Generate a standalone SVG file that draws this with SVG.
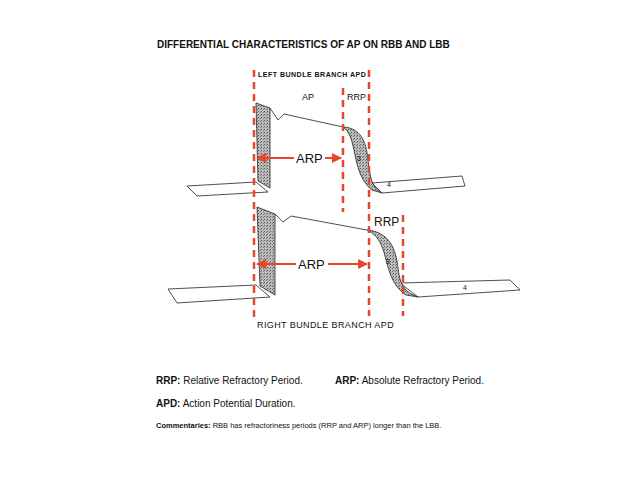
<svg xmlns="http://www.w3.org/2000/svg" width="638" height="479" viewBox="0 0 638 479">
<defs>
<pattern id="stip" width="3" height="3" patternUnits="userSpaceOnUse"><rect width="3" height="3" fill="#bbb"/><rect x="0" y="0" width="1" height="1" fill="#555"/><rect x="2" y="1" width="1" height="1" fill="#777"/></pattern>
<marker id="ah" viewBox="0 0 10 10" refX="9" refY="5" markerWidth="5" markerHeight="5" orient="auto-start-reverse"><path d="M0,0L10,5L0,10z" fill="#e8452a"/></marker>
</defs>
<style>
.t{font-family:"Liberation Sans",Arial,sans-serif;fill:#111}
.red{stroke:#e8452a;stroke-width:2.5;stroke-dasharray:7,5;fill:none}
.arr{stroke:#e8452a;stroke-width:2;fill:none}
.w{stroke:#222;stroke-width:0.8;fill:#fff}
.s{stroke:#222;stroke-width:0.8;fill:url(#stip)}
</style>
<rect width="638" height="479" fill="#fff"/>
<text class="t" x="157" y="48" font-size="10" font-weight="bold">DIFFERENTIAL CHARACTERISTICS OF AP ON RBB AND LBB</text>
<g id="lbb">
<polygon class="w" points="187,186 256,182 268,192 197,196"/>
<polygon class="w" points="372,183 462,176 465,186 382,193"/>
<polyline class="w" points="270,108 278,120 284,114 343,127" style="fill:none"/>
<polygon class="s" points="256,103 270,108 270,188 258,181"/>
<path class="s" d="M343,127 C360,128 366,140 368,160 C370,178 372,188 382,193 L372,190 C362,182 358,170 355,155 C352,140 350,132 343,127z"/>
<text class="t" x="357" y="161" font-size="7">3</text>
<text class="t" x="387" y="187" font-size="7">4</text>
<text class="t" x="258" y="77" font-size="7" font-weight="bold" letter-spacing="0.5">LEFT BUNDLE BRANCH APD</text>
<text class="t" x="302" y="100" font-size="9">AP</text>
<text class="t" x="347" y="100" font-size="9">RRP</text>
<text class="t" x="296" y="163" font-size="13">ARP</text>
</g>
<g id="rbb">
<polygon class="w" points="168,289 256,285 270,297 177,303"/>
<polygon class="w" points="400,283 510,280 520,290 418,297"/>
<polyline class="w" points="275,214 283,222 291,216 367,230" style="fill:none"/>
<polygon class="s" points="257,207 275,214 275,295 260,286"/>
<path class="s" d="M367,230 C390,232 396,250 398,268 C400,285 404,292 418,297 L406,295 C394,287 390,275 386,260 C382,242 376,234 367,230z"/>
<text class="t" x="386" y="264" font-size="7">3</text>
<text class="t" x="463" y="290" font-size="7">4</text>
<text class="t" x="374" y="226" font-size="12">RRP</text>
<text class="t" x="298" y="269" font-size="13">ARP</text>
<text class="t" x="257" y="328" font-size="9" letter-spacing="0.4">RIGHT BUNDLE BRANCH APD</text>
</g>
<g id="connectors">
<line class="red" x1="254" y1="70" x2="254" y2="320"/>
<line class="red" x1="343" y1="88" x2="343" y2="212"/>
<line class="red" x1="369" y1="70" x2="369" y2="316"/>
<line class="red" x1="403" y1="215" x2="403" y2="316"/>
<line class="arr" x1="294" y1="158" x2="257" y2="158" marker-end="url(#ah)"/>
<line class="arr" x1="325" y1="158" x2="341" y2="158" marker-end="url(#ah)"/>
<line class="arr" x1="296" y1="264" x2="257" y2="264" marker-end="url(#ah)"/>
<line class="arr" x1="328" y1="264" x2="367" y2="264" marker-end="url(#ah)"/>
</g>
<g id="legend" class="t" font-size="10">
<text x="156" y="384"><tspan font-weight="bold">RRP:</tspan> Relative Refractory Period.</text>
<text x="335" y="384"><tspan font-weight="bold">ARP:</tspan> Absolute Refractory Period.</text>
<text x="156" y="407"><tspan font-weight="bold">APD:</tspan> Action Potential Duration.</text>
<text x="156" y="428" font-size="7.5"><tspan font-weight="bold">Commentaries:</tspan> RBB has refractoriness periods (RRP and ARP) longer than the LBB.</text>
</g>
</svg>
